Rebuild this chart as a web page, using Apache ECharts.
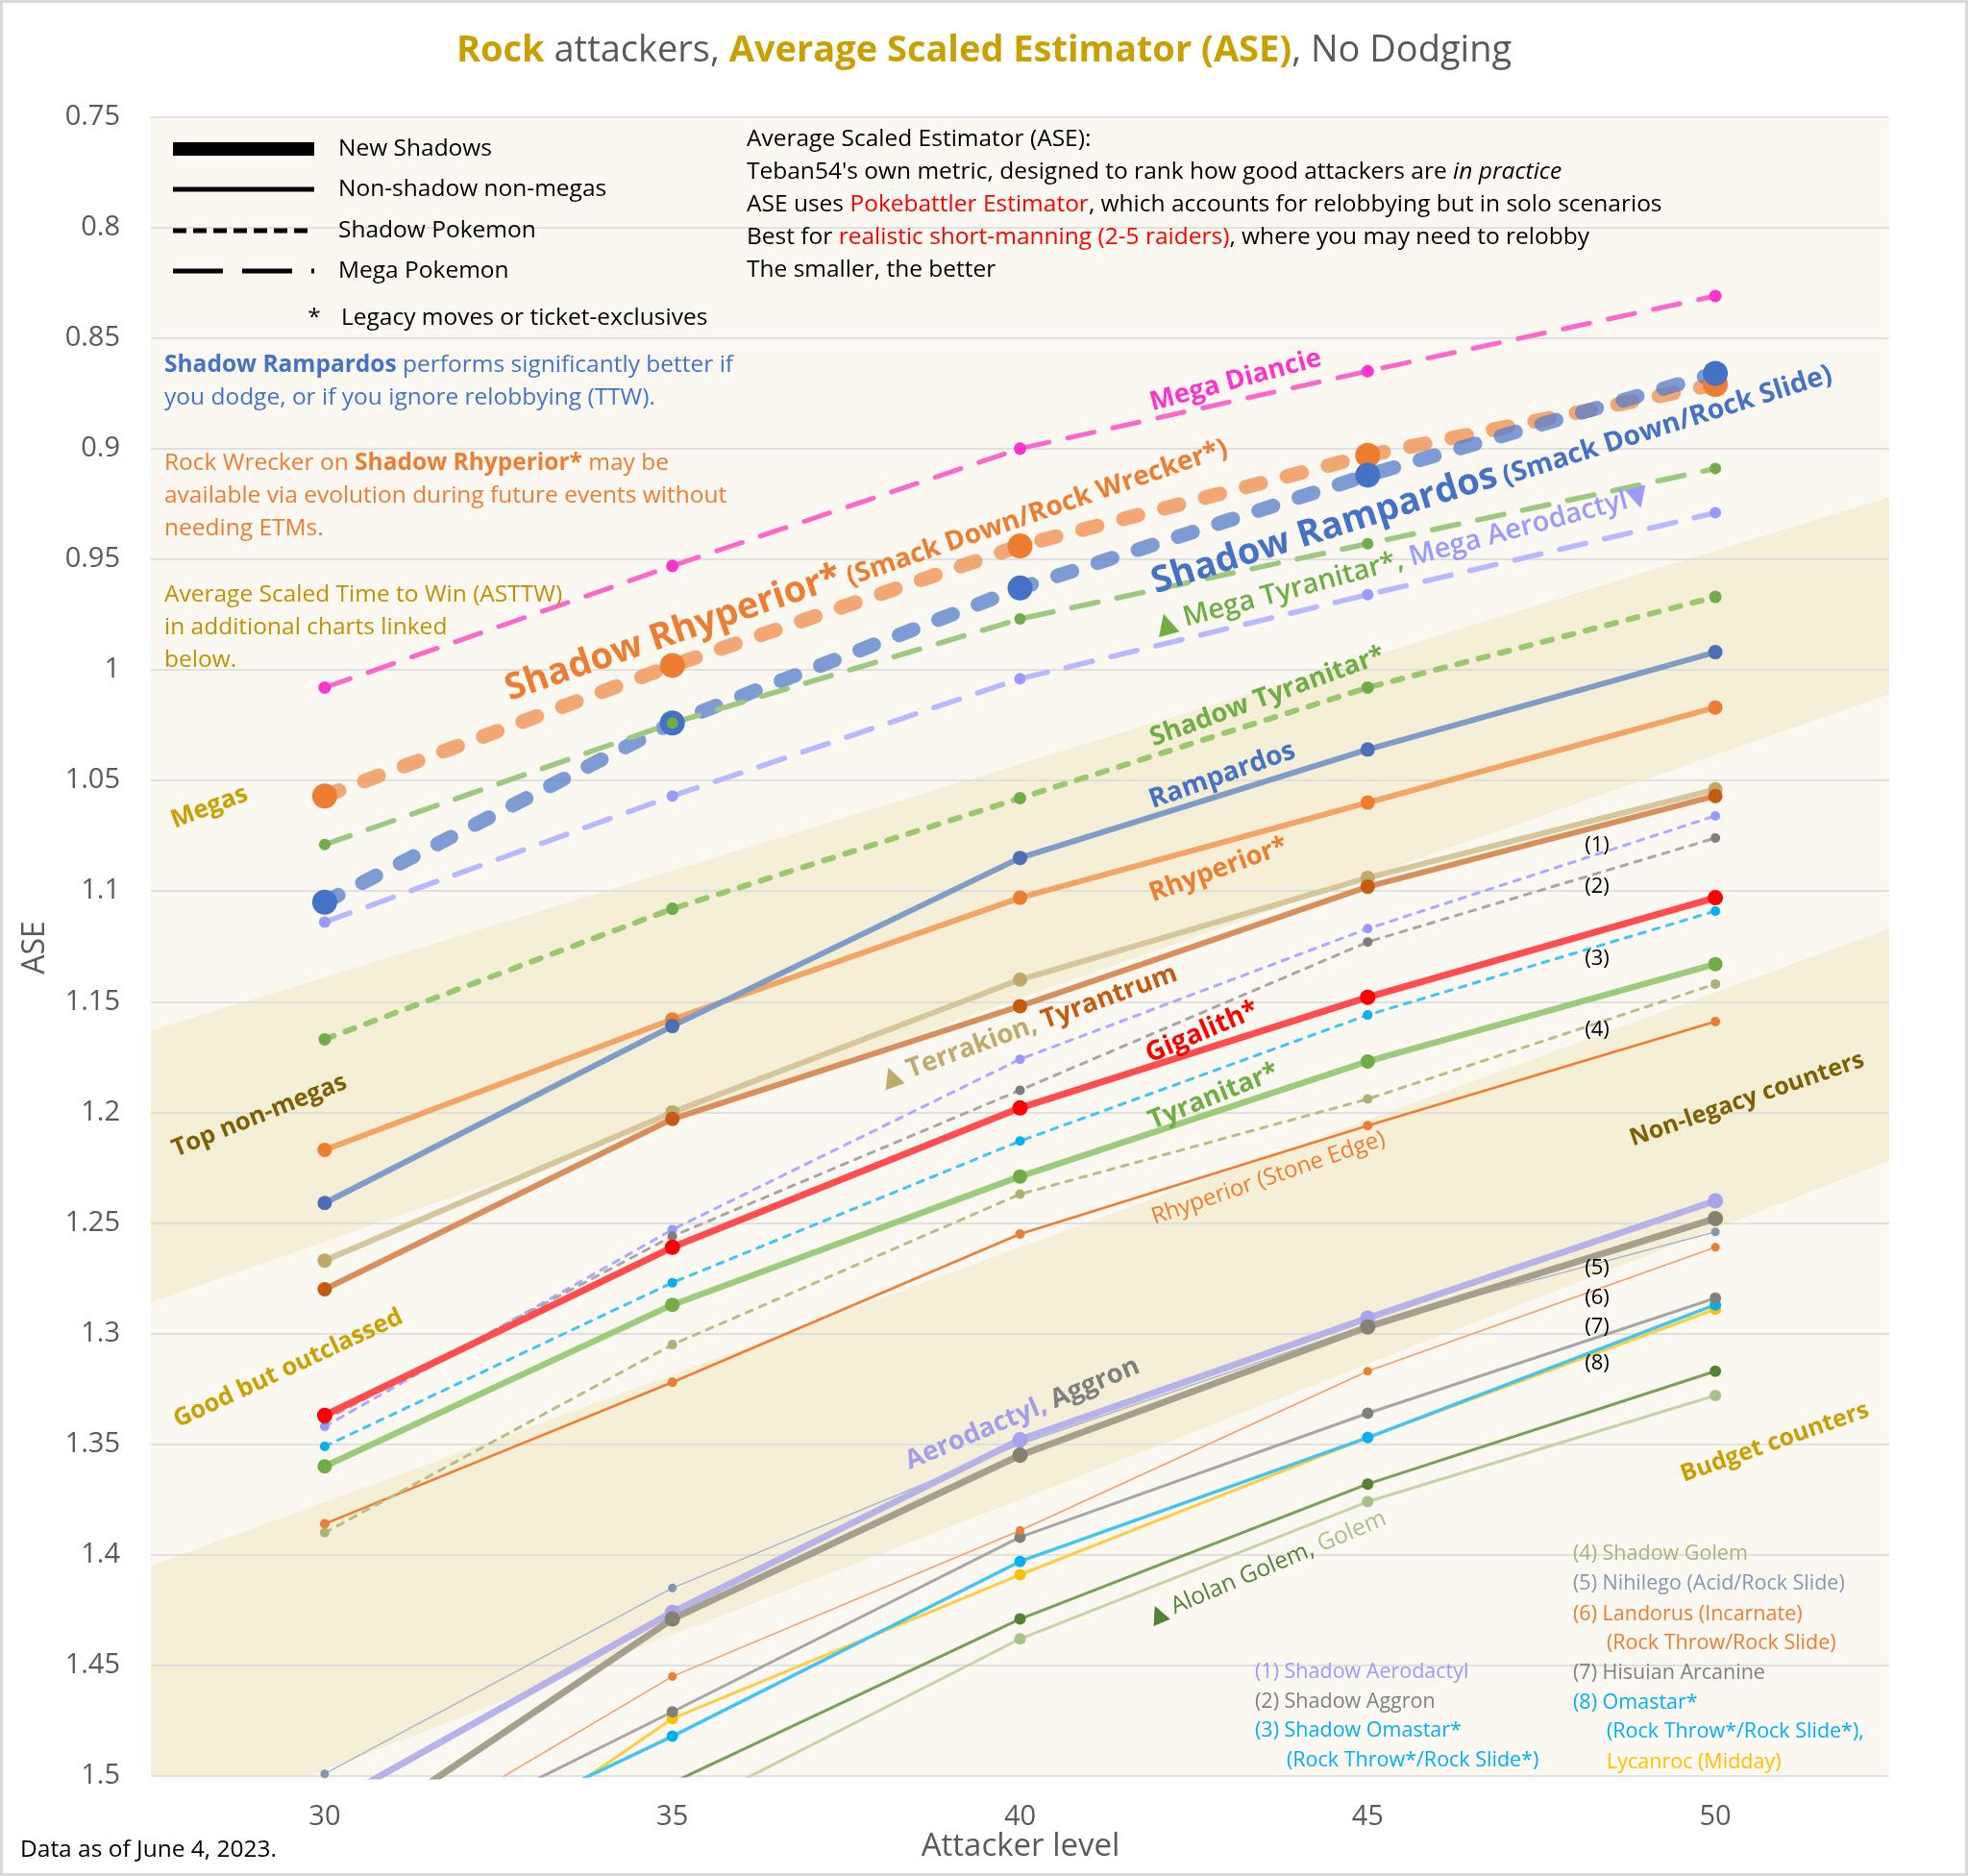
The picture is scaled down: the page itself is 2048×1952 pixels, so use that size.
<!DOCTYPE html>
<html lang="en">
<head>
<meta charset="utf-8">
<title>Rock attackers, ASE, No Dodging</title>
<script src="https://cdn.jsdelivr.net/npm/echarts@6.0.0/dist/echarts.min.js"></script>
<style>
  html, body { margin: 0; padding: 0; background: #fff; }
  #main { width: 2048px; height: 1952px; }
</style>
</head>
<body>
<div id="main"></div>
<script>
var FONT = '"Open Sans", "Noto Sans", "DejaVu Sans", sans-serif';

// attacker levels (x axis)
var levels = [30, 35, 40, 45, 50];
var yTicks = [0.75, 1.5, 0.05]; // min, max, step

// ASE per attacker, the smaller the better
var megaDiancie        = [1.008, 0.953, 0.900, 0.865, 0.831];
var shadowRhyperior    = [1.057, 0.998, 0.944, 0.903, 0.871];
var shadowRampardos    = [1.105, 1.024, 0.963, 0.912, 0.866];
var megaTyranitar      = [1.079, 1.024, 0.977, 0.943, 0.909];
var megaAerodactyl     = [1.114, 1.057, 1.004, 0.966, 0.929];
var shadowTyranitar    = [1.167, 1.108, 1.058, 1.008, 0.967];
var rampardos          = [1.241, 1.161, 1.085, 1.036, 0.992];
var rhyperior          = [1.217, 1.158, 1.103, 1.060, 1.017];
var terrakion          = [1.267, 1.200, 1.140, 1.094, 1.054];
var tyrantrum          = [1.280, 1.203, 1.152, 1.098, 1.057];
var shadowAerodactyl   = [1.342, 1.253, 1.176, 1.117, 1.066];
var shadowAggron       = [1.339, 1.256, 1.190, 1.123, 1.076];
var gigalith           = [1.337, 1.261, 1.198, 1.148, 1.103];
var shadowOmastar      = [1.351, 1.277, 1.213, 1.156, 1.109];
var tyranitar          = [1.360, 1.287, 1.229, 1.177, 1.133];
var shadowGolem        = [1.390, 1.305, 1.237, 1.194, 1.142];
var rhyperiorStoneEdge = [1.386, 1.322, 1.255, 1.206, 1.159];
var aerodactyl         = [1.514, 1.426, 1.348, 1.293, 1.240];
var aggron             = [1.535, 1.429, 1.355, 1.297, 1.248];
var nihilego           = [1.499, 1.415, 1.350, 1.296, 1.254];
var landorus           = [1.548, 1.455, 1.389, 1.317, 1.261];
var hisuianArcanine    = [1.549, 1.471, 1.392, 1.336, 1.284];
var omastar            = [1.557, 1.482, 1.403, 1.347, 1.287];
var lycanroc           = [1.582, 1.474, 1.409, 1.347, 1.289];
var alolanGolem        = [1.580, 1.503, 1.429, 1.368, 1.317];
var golem              = [1.600, 1.518, 1.438, 1.376, 1.328];

// tier bands: [top edge, bottom edge], each given at x = 27.5 and x = 52.5
var bandX = [27.5, 52.5];
var topNonMegasBand = [[1.163, 0.922], [1.286, 1.011]];
var nonLegacyBand   = [[1.405, 1.117], [1.528, 1.222]];

var MEGA = [28, 20], BIG = [16, 28], SHADOW = [10, 13], THIN = [7, 8];

function pts(arr) {
  return levels.map(function (l, i) { return [l, arr[i]]; });
}

function line(name, data, marker, stroke, width, dash, size) {
  return {
    name: name,
    type: 'line',
    data: pts(data),
    symbol: 'circle',
    symbolSize: size,
    showSymbol: true,
    itemStyle: { color: marker },
    lineStyle: { color: stroke, width: width, type: dash || 'solid', cap: 'round' },
    emphasis: { disabled: true },
    silent: true,
    z: 2
  };
}

var BODY = 24.5, KEY = 21.5;

function txt(x, y, text, o) {
  return {
    type: 'text', x: x, y: y, z: 10, silent: true,
    rotation: (o.rot || 0) * Math.PI / 180,
    style: {
      text: text, fill: o.color || '#000', fontSize: o.size || BODY,
      fontWeight: o.weight || 'normal', fontFamily: FONT,
      align: o.align || 'center', textAlign: o.align || 'center',
      verticalAlign: 'middle', textVerticalAlign: 'middle',
      rich: o.rich
    }
  };
}

function rs(color, size, weight, style) {
  return { fill: color, color: color, fontSize: size, fontWeight: weight || 'normal',
           fontStyle: style || 'normal', fontFamily: FONT, verticalAlign: 'bottom' };
}

var bands = [
  { whole: true, fill: '#FAF8F0' },
  { edges: topNonMegasBand, fill: '#F6EFD8' },
  { edges: nonLegacyBand, fill: '#F6EFD8' }
];

function renderBand(params, api) {
  var b = bands[params.dataIndex];
  var p;
  if (b.whole) {
    p = [api.coord([bandX[0], yTicks[0]]), api.coord([bandX[1], yTicks[0]]),
         api.coord([bandX[1], yTicks[1]]), api.coord([bandX[0], yTicks[1]])];
  } else {
    p = [api.coord([bandX[0], b.edges[0][0]]), api.coord([bandX[1], b.edges[0][1]]),
         api.coord([bandX[1], b.edges[1][1]]), api.coord([bandX[0], b.edges[1][0]])];
  }
  return { type: 'polygon', shape: { points: p }, style: { fill: b.fill } };
}

var series = [
  {
    type: 'custom', renderItem: renderBand, clip: true, silent: true, z: 0,
    data: [[30, 1], [30, 1], [30, 1]]
  },
  line('Golem', golem, '#A9C08A', '#C4D4A4', 3, null, 12),
  line('Alolan Golem', alolanGolem, '#548235', '#76A055', 3, null, 12),
  line('Lycanroc (Midday)', lycanroc, '#FFC000', '#FFCC40', 3, null, 12),
  line('Omastar*', omastar, '#00B0F0', '#40C4F2', 3.5, null, 12),
  line('Hisuian Arcanine', hisuianArcanine, '#808080', '#A6A6A6', 3, null, 12),
  line('Landorus (Incarnate)', landorus, '#ED7D31', '#F29D69', 1.5, null, 9),
  line('Nihilego', nihilego, '#8497B0', '#A8B6CC', 1.5, null, 9),
  line('Aerodactyl', aerodactyl, '#A9A3EC', '#B7B1EC', 7, null, 16),
  line('Aggron', aggron, '#86806E', '#A59F8C', 7, null, 16),
  line('Rhyperior (Stone Edge)', rhyperiorStoneEdge, '#ED7D31', '#ED7D31', 2.5, null, 10),
  line('Shadow Golem', shadowGolem, '#ABB273', '#B9BD85', 3, THIN, 10),
  line('Tyranitar*', tyranitar, '#70AD47', '#9BCB7B', 6.5, null, 15),
  line('Shadow Omastar*', shadowOmastar, '#00B0F0', '#3CC5F2', 3, THIN, 10),
  line('Shadow Aerodactyl', shadowAerodactyl, '#9999FF', '#A9A9FF', 3, THIN, 10),
  line('Shadow Aggron', shadowAggron, '#7F7F7F', '#A6A6A6', 3, THIN, 10),
  line('Gigalith*', gigalith, '#FF0000', '#FF4C4C', 7, null, 16),
  line('Terrakion', terrakion, '#BFA96B', '#D5C69B', 6, null, 15),
  line('Tyrantrum', tyrantrum, '#C55A11', '#D98E5B', 6, null, 15),
  line('Rhyperior*', rhyperior, '#ED7D31', '#F3A462', 6, null, 15),
  line('Rampardos', rampardos, '#4A6FB5', '#7F9BC8', 6, null, 15),
  line('Shadow Tyranitar*', shadowTyranitar, '#70AD47', '#9DC76F', 6, SHADOW, 13),
  line('Shadow Rhyperior*', shadowRhyperior, '#ED7D31', 'rgba(241,146,82,0.8)', 15, BIG, 26),
  line('Shadow Rampardos', shadowRampardos, '#4472C4', 'rgba(90,128,204,0.78)', 15, BIG, 26),
  line('Mega Aerodactyl', megaAerodactyl, '#9999FF', '#B8B8FF', 5.5, MEGA, 12),
  line('Mega Tyranitar*', megaTyranitar, '#70AD47', '#9DC97F', 5.5, MEGA, 12),
  line('Mega Diancie', megaDiancie, '#FF33CC', '#FF66CC', 5, MEGA, 13)
];

var GOLD = '#C9A000', BROWN = '#7F6000';
var graphics = [
  { type: 'rect', shape: { x: 1.5, y: 1.5, width: 2045, height: 1949 },
    style: { fill: 'none', stroke: '#D9D9D9', lineWidth: 3 }, z: 10, silent: true },

  // line style key
  { type: 'line', shape: { x1: 180, y1: 155, x2: 327, y2: 155 }, style: { stroke: '#000', lineWidth: 14 }, z: 10 },
  { type: 'line', shape: { x1: 180, y1: 197, x2: 327, y2: 197 }, style: { stroke: '#000', lineWidth: 5 }, z: 10 },
  { type: 'line', shape: { x1: 180, y1: 240, x2: 327, y2: 240 }, style: { stroke: '#000', lineWidth: 5, lineDash: [14, 7] }, z: 10 },
  { type: 'line', shape: { x1: 180, y1: 282, x2: 327, y2: 282 }, style: { stroke: '#000', lineWidth: 5, lineDash: [52, 20] }, z: 10 },
  txt(352, 155, 'New Shadows', { align: 'left' }),
  txt(352, 197, 'Non-shadow non-megas', { align: 'left' }),
  txt(352, 240, 'Shadow Pokemon', { align: 'left' }),
  txt(352, 282, 'Mega Pokemon', { align: 'left' }),
  txt(327, 331, '*', { align: 'center' }),
  txt(355, 331, 'Legacy moves or ticket-exclusives', { align: 'left' }),

  // ASE description
  txt(777, 145, 'Average Scaled Estimator (ASE):', { align: 'left' }),
  txt(777, 179, "Teban54's own metric, designed to rank how good attackers are {i|in practice}",
      { align: 'left', rich: { i: rs('#000', BODY, 'normal', 'italic') } }),
  txt(777, 213, 'ASE uses {r|Pokebattler Estimator}, which accounts for relobbying but in solo scenarios',
      { align: 'left', rich: { r: rs('#FF0000', BODY) } }),
  txt(777, 247, 'Best for {r|realistic short-manning (2-5 raiders)}, where you may need to relobby',
      { align: 'left', rich: { r: rs('#FF0000', BODY) } }),
  txt(777, 281, 'The smaller, the better', { align: 'left' }),

  // notes on the left
  txt(171, 380, '{b|Shadow Rampardos} performs significantly better if',
      { align: 'left', color: '#4472C4', rich: { b: rs('#4472C4', BODY, 'bold') } }),
  txt(171, 414, 'you dodge, or if you ignore relobbying (TTW).', { align: 'left', color: '#4472C4' }),
  txt(171, 482, 'Rock Wrecker on {b|Shadow Rhyperior*} may be',
      { align: 'left', color: '#ED7D31', rich: { b: rs('#ED7D31', BODY, 'bold') } }),
  txt(171, 516, 'available via evolution during future events without', { align: 'left', color: '#ED7D31' }),
  txt(171, 550, 'needing ETMs.', { align: 'left', color: '#ED7D31' }),
  txt(171, 619, 'Average Scaled Time to Win (ASTTW)', { align: 'left', color: '#BF9000' }),
  txt(171, 653, 'in additional charts linked', { align: 'left', color: '#BF9000' }),
  txt(171, 687, 'below.', { align: 'left', color: '#BF9000' }),

  // series labels
  txt(1286, 396, 'Mega Diancie', { rot: 15, color: '#FF33CC', size: 27.5, weight: 'bold' }),
  txt(901, 590, '{a|Shadow Rhyperior*} {s|(Smack Down/Rock Wrecker*)}',
      { rot: 19, rich: { a: rs('#ED7D31', 38, 'bold'), s: rs('#ED7D31', 28, 'bold') } }),
  txt(1552, 496, '{a|Shadow Rampardos} {s|(Smack Down/Rock Slide)}',
      { rot: 17.5, rich: { a: rs('#4472C4', 38, 'bold'), s: rs('#4472C4', 28.5, 'bold') } }),
  txt(1459, 583, '{g|\u25B2 Mega Tyranitar*, }{p|Mega Aerodactyl\u25BC}',
      { rot: 15, rich: { g: rs('#70AD47', 29, '600'), p: rs('#9999FF', 29, '600') } }),
  txt(1319, 725, 'Shadow Tyranitar*', { rot: 20, color: '#70AD47', size: 27.5, weight: 'bold' }),
  txt(1272, 807, 'Rampardos', { rot: 19.5, color: '#4472C4', size: 28, weight: 'bold' }),
  txt(1268, 905, 'Rhyperior*', { rot: 20, color: '#ED7D31', size: 27.5, weight: 'bold' }),
  txt(1071, 1068, '{t|\u25B2 Terrakion, }{y|Tyrantrum}',
      { rot: 20, rich: { t: rs('#BFA96B', 27.5, 'bold'), y: rs('#C55A11', 27.5, 'bold') } }),
  txt(1251, 1074, 'Gigalith*', { rot: 23, color: '#FF0000', size: 28, weight: 'bold' }),
  txt(1263, 1141, 'Tyranitar*', { rot: 22, color: '#70AD47', size: 27.5, weight: 'bold' }),
  txt(1320, 1226, 'Rhyperior (Stone Edge)', { rot: 19, color: '#ED7D31', size: 24 }),
  txt(1064, 1471, '{a|Aerodactyl, }{g|Aggron}',
      { rot: 22.8, rich: { a: rs('#A29DEE', 27.5, 'bold'), g: rs('#7F7F7F', 27.5, 'bold') } }),
  txt(1319, 1631, '{a|\u25B2 Alolan Golem, }{g|Golem}',
      { rot: 23, rich: { a: rs('#548235', 24.5), g: rs('#A9C08A', 24.5) } }),

  // tier labels
  txt(218, 840, 'Megas', { rot: 21, color: GOLD, size: 26, weight: 'bold' }),
  txt(270, 1161, 'Top non-megas', { rot: 21.8, color: BROWN, size: 25.5, weight: 'bold' }),
  txt(300, 1424, 'Good but outclassed', { rot: 25, color: GOLD, size: 25.5, weight: 'bold' }),
  txt(1818, 1144, 'Non-legacy counters', { rot: 19, color: BROWN, size: 25, weight: 'bold' }),
  txt(1847, 1501, 'Budget counters', { rot: 19.5, color: GOLD, size: 25, weight: 'bold' }),

  // numbered markers
  txt(1662, 880, '(1)', { size: 22 }), txt(1662, 923, '(2)', { size: 22 }),
  txt(1662, 998, '(3)', { size: 22 }), txt(1662, 1072, '(4)', { size: 22 }),
  txt(1662, 1320, '(5)', { size: 22 }), txt(1662, 1351, '(6)', { size: 22 }),
  txt(1662, 1381, '(7)', { size: 22 }), txt(1662, 1419, '(8)', { size: 22 }),

  // numbered key
  txt(1637, 1617, '(4) Shadow Golem', { align: 'left', color: '#A9B27A', size: KEY }),
  txt(1637, 1648, '(5) Nihilego (Acid/Rock Slide)', { align: 'left', color: '#8497B0', size: KEY }),
  txt(1637, 1680, '(6) Landorus (Incarnate)', { align: 'left', color: '#ED7D31', size: KEY }),
  txt(1672, 1710, '(Rock Throw/Rock Slide)', { align: 'left', color: '#ED7D31', size: KEY }),
  txt(1637, 1741, '(7) Hisuian Arcanine', { align: 'left', color: '#7F7F7F', size: KEY }),
  txt(1637, 1772, '(8) Omastar*', { align: 'left', color: '#00B0F0', size: KEY }),
  txt(1672, 1802, '(Rock Throw*/Rock Slide*),', { align: 'left', color: '#00B0F0', size: KEY }),
  txt(1672, 1834, 'Lycanroc (Midday)', { align: 'left', color: '#FFC000', size: KEY }),
  txt(1306, 1740, '(1) Shadow Aerodactyl', { align: 'left', color: '#9999FF', size: KEY }),
  txt(1306, 1771, '(2) Shadow Aggron', { align: 'left', color: '#7F7F7F', size: KEY }),
  txt(1306, 1801, '(3) Shadow Omastar*', { align: 'left', color: '#00B0F0', size: KEY }),
  txt(1339, 1832, '(Rock Throw*/Rock Slide*)', { align: 'left', color: '#00B0F0', size: KEY }),

  // axis names and footnote
  txt(37, 986, 'ASE', { rot: 90, color: '#595959', size: 32 }),
  txt(1062, 1922, 'Attacker level', { color: '#595959', size: 33 }),
  txt(21, 1925, 'Data as of June 4, 2023.', { align: 'left', size: 24.5 })
];

var chart = echarts.init(document.getElementById('main'), null, { renderer: 'canvas' });
chart.setOption({
  animation: false,
  backgroundColor: '#ffffff',
  textStyle: { fontFamily: FONT },
  title: {
    left: 'center', top: 29,
    text: '{g|Rock}{n| attackers, }{g|Average Scaled Estimator (ASE)}{n|, No Dodging}',
    textStyle: {
      fontWeight: 'normal',
      rich: {
        g: { color: GOLD, fontWeight: 'bold', fontSize: 38, fontFamily: FONT },
        n: { color: '#595959', fontWeight: 'normal', fontSize: 38, fontFamily: FONT }
      }
    }
  },
  grid: { left: 157, right: 82, top: 121.5, bottom: 104, containLabel: false },
  xAxis: {
    type: 'value', min: 27.5, max: 52.5, interval: 2.5, z: 1,
    axisLine: { show: false }, axisTick: { show: false }, splitLine: { show: false },
    axisLabel: {
      margin: 28, fontSize: 29, color: '#595959', fontFamily: FONT,
      formatter: function (v) { return v % 5 === 0 ? String(v) : ''; }
    }
  },
  yAxis: {
    type: 'value', inverse: true, min: yTicks[0], max: yTicks[1], interval: yTicks[2], z: 1,
    axisLine: { show: false }, axisTick: { show: false },
    splitLine: { lineStyle: { color: '#D9D9D9', width: 1.5 } },
    axisLabel: {
      margin: 32, fontSize: 29, color: '#595959', fontFamily: FONT,
      formatter: function (v) { return String(+v.toFixed(2)); }
    }
  },
  series: series,
  graphic: { elements: graphics }
});
</script>
</body>
</html>
